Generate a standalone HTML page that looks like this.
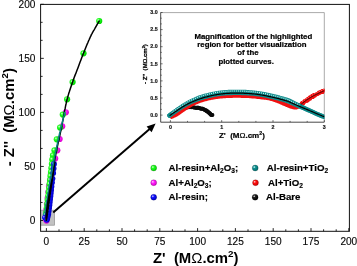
<!DOCTYPE html>
<html><head><meta charset="utf-8"><title>Nyquist plot</title>
<style>html,body{margin:0;padding:0;background:#fff}svg{display:block}</style></head>
<body>
<svg width="357" height="266" viewBox="0 0 357 266" font-family="Liberation Sans, sans-serif">
<defs>
<radialGradient id="gG" cx="35%" cy="35%" r="65%"><stop offset="0" stop-color="#d8ffd8"/><stop offset="0.35" stop-color="#22ff22"/><stop offset="1" stop-color="#00d800"/></radialGradient>
<radialGradient id="gM" cx="35%" cy="35%" r="65%"><stop offset="0" stop-color="#ffe0ff"/><stop offset="0.35" stop-color="#ff22ff"/><stop offset="1" stop-color="#e000d0"/></radialGradient>
<radialGradient id="gB" cx="35%" cy="35%" r="65%"><stop offset="0" stop-color="#d0d0ff"/><stop offset="0.35" stop-color="#1010ff"/><stop offset="1" stop-color="#0000c8"/></radialGradient>
<radialGradient id="gT" cx="35%" cy="35%" r="65%"><stop offset="0" stop-color="#d8ffff"/><stop offset="0.35" stop-color="#109090"/><stop offset="1" stop-color="#007070"/></radialGradient>
<radialGradient id="gR" cx="35%" cy="35%" r="65%"><stop offset="0" stop-color="#ffe0e0"/><stop offset="0.35" stop-color="#ff1010"/><stop offset="1" stop-color="#d80000"/></radialGradient>
<radialGradient id="gK" cx="35%" cy="35%" r="65%"><stop offset="0" stop-color="#ffffff"/><stop offset="0.3" stop-color="#202020"/><stop offset="1" stop-color="#000000"/></radialGradient>
</defs>
<rect width="357" height="266" fill="#fff"/>
<rect x="40.6" y="210.2" width="14.0" height="15" fill="#c2c2c2" stroke="#909090" stroke-width="0.7"/>
<rect x="40.6" y="4.4" width="308.79999999999995" height="226.9" fill="none" stroke="#111" stroke-width="1"/>
<path d="M46.40 231.3v-3.2M59.00 231.3v-2M71.60 231.3v-2M84.20 231.3v-3.2M96.80 231.3v-2M109.40 231.3v-2M122.00 231.3v-3.2M134.60 231.3v-2M147.20 231.3v-2M159.80 231.3v-3.2M172.40 231.3v-2M185.00 231.3v-2M197.60 231.3v-3.2M210.20 231.3v-2M222.80 231.3v-2M235.40 231.3v-3.2M248.00 231.3v-2M260.60 231.3v-2M273.20 231.3v-3.2M285.80 231.3v-2M298.40 231.3v-2M311.00 231.3v-3.2M323.60 231.3v-2M336.20 231.3v-2M348.80 231.3v-3.2M40.6 220.50h3.2M40.6 202.48h2M40.6 184.47h2M40.6 166.45h3.2M40.6 148.43h2M40.6 130.42h2M40.6 112.40h3.2M40.6 94.38h2M40.6 76.37h2M40.6 58.35h3.2M40.6 40.33h2M40.6 22.32h2M40.6 4.30h3.2" stroke="#111" stroke-width="0.9" fill="none"/>
<g font-size="10.1" fill="#0a0a0a" stroke="#0a0a0a" stroke-width="0.15">
<text x="46.4" y="244.8" text-anchor="middle">0</text>
<text x="84.2" y="244.8" text-anchor="middle">25</text>
<text x="122.0" y="244.8" text-anchor="middle">50</text>
<text x="159.8" y="244.8" text-anchor="middle">75</text>
<text x="197.6" y="244.8" text-anchor="middle">100</text>
<text x="235.4" y="244.8" text-anchor="middle">125</text>
<text x="273.2" y="244.8" text-anchor="middle">150</text>
<text x="311.0" y="244.8" text-anchor="middle">175</text>
<text x="348.8" y="244.8" text-anchor="middle">200</text>
<text x="35.4" y="224.1" text-anchor="end">0</text>
<text x="35.4" y="170.0" text-anchor="end">50</text>
<text x="35.4" y="116.0" text-anchor="end">100</text>
<text x="35.4" y="61.9" text-anchor="end">150</text>
<text x="35.4" y="7.9" text-anchor="end">200</text>
</g>
<text x="153" y="262.8" font-size="14.9" font-weight="bold" fill="#000" xml:space="preserve">Z'  (M<tspan font-weight="normal">Ω</tspan>.cm<tspan font-size="9.8" dy="-5.4">2</tspan><tspan dy="5.4">)</tspan></text>
<text transform="translate(13.7,166.3) rotate(-90)" font-size="14.9" font-weight="bold" fill="#000" xml:space="preserve">- Z''  (M<tspan font-weight="normal">Ω</tspan>.cm<tspan font-size="9.8" dy="-5.4">2</tspan><tspan dy="5.4">)</tspan></text>
<circle cx="65.8" cy="112.3" r="3.1" fill="url(#gM)"/>
<circle cx="62.2" cy="126.3" r="3.1" fill="url(#gM)"/>
<circle cx="59.6" cy="139" r="3.1" fill="url(#gM)"/>
<circle cx="57.3" cy="150.3" r="3.1" fill="url(#gM)"/>
<circle cx="55.2" cy="158.5" r="3.1" fill="url(#gM)"/>
<circle cx="51.9" cy="168" r="3.1" fill="url(#gM)"/>
<circle cx="50.9" cy="174" r="3.1" fill="url(#gM)"/>
<circle cx="50.0" cy="180" r="3.1" fill="url(#gM)"/>
<circle cx="49.0" cy="186" r="3.1" fill="url(#gM)"/>
<circle cx="48.3" cy="192" r="3.1" fill="url(#gM)"/>
<circle cx="47.6" cy="198" r="3.1" fill="url(#gM)"/>
<circle cx="46.9" cy="204" r="3.1" fill="url(#gM)"/>
<circle cx="46.3" cy="210" r="3.1" fill="url(#gM)"/>
<circle cx="45.7" cy="216" r="3.1" fill="url(#gM)"/>
<circle cx="46.2" cy="219.2" r="3.1" fill="url(#gM)"/>
<circle cx="46.5" cy="220.6" r="3.1" fill="url(#gM)"/>
<circle cx="99.2" cy="21" r="3.1" fill="url(#gG)"/>
<circle cx="83.5" cy="53.3" r="3.1" fill="url(#gG)"/>
<circle cx="72.6" cy="82.1" r="3.1" fill="url(#gG)"/>
<circle cx="67.1" cy="99.3" r="3.1" fill="url(#gG)"/>
<circle cx="62.8" cy="114.5" r="3.1" fill="url(#gG)"/>
<circle cx="60.1" cy="127.5" r="3.1" fill="url(#gG)"/>
<circle cx="56.8" cy="139.3" r="3.1" fill="url(#gG)"/>
<circle cx="54.5" cy="150.3" r="3.1" fill="url(#gG)"/>
<circle cx="53.0" cy="155.4" r="3.1" fill="url(#gG)"/>
<circle cx="52.3" cy="159.6" r="3.1" fill="url(#gG)"/>
<circle cx="51.9" cy="163.8" r="3.1" fill="url(#gG)"/>
<circle cx="51.4" cy="168" r="3.1" fill="url(#gG)"/>
<circle cx="51.0" cy="172" r="3.1" fill="url(#gG)"/>
<circle cx="50.5" cy="176" r="3.1" fill="url(#gG)"/>
<circle cx="50.1" cy="180" r="3.1" fill="url(#gG)"/>
<circle cx="49.6" cy="184" r="3.1" fill="url(#gG)"/>
<circle cx="49.2" cy="188" r="3.1" fill="url(#gG)"/>
<circle cx="48.7" cy="192" r="3.1" fill="url(#gG)"/>
<circle cx="48.2" cy="196" r="3.1" fill="url(#gG)"/>
<circle cx="47.7" cy="200" r="3.1" fill="url(#gG)"/>
<circle cx="47.2" cy="204" r="3.1" fill="url(#gG)"/>
<circle cx="46.8" cy="208" r="3.1" fill="url(#gG)"/>
<circle cx="46.3" cy="212" r="3.1" fill="url(#gG)"/>
<circle cx="45.9" cy="215" r="3.1" fill="url(#gG)"/>
<circle cx="45.2" cy="214.5" r="2.3" fill="url(#gT)"/>
<circle cx="44.7" cy="217.6" r="2.6" fill="url(#gB)"/>
<circle cx="54.0" cy="164" r="2.9" fill="url(#gB)"/>
<circle cx="53.6" cy="168.5" r="2.9" fill="url(#gB)"/>
<circle cx="53.2" cy="173" r="2.9" fill="url(#gB)"/>
<circle cx="52.5" cy="178.6" r="2.9" fill="url(#gB)"/>
<circle cx="52.0" cy="182.5" r="2.9" fill="url(#gB)"/>
<circle cx="51.5" cy="186.5" r="2.9" fill="url(#gB)"/>
<circle cx="51.1" cy="190" r="2.9" fill="url(#gB)"/>
<circle cx="50.8" cy="193" r="2.9" fill="url(#gB)"/>
<circle cx="50.5" cy="196" r="2.9" fill="url(#gB)"/>
<circle cx="50.1" cy="199" r="2.9" fill="url(#gB)"/>
<circle cx="49.8" cy="202" r="2.9" fill="url(#gB)"/>
<circle cx="49.5" cy="205" r="2.9" fill="url(#gB)"/>
<circle cx="49.1" cy="208" r="2.9" fill="url(#gB)"/>
<circle cx="48.7" cy="211" r="2.9" fill="url(#gB)"/>
<circle cx="48.3" cy="214" r="2.9" fill="url(#gB)"/>
<circle cx="47.7" cy="216.5" r="2.9" fill="url(#gB)"/>
<circle cx="47.2" cy="218.5" r="2.9" fill="url(#gB)"/>
<circle cx="46.7" cy="219.8" r="2.9" fill="url(#gB)"/>
<path d="M99.2 21.0 L99.0 21.3 L98.8 21.7 L98.5 22.1 L98.3 22.6 L97.9 23.2 L97.6 23.7 L97.2 24.4 L96.9 25.0 L96.5 25.6 L96.1 26.3 L95.8 27.0 L95.4 27.6 L95.0 28.2 L94.7 28.8 L94.3 29.5 L94.0 30.1 L93.6 30.7 L93.2 31.4 L92.8 32.0 L92.4 32.8 L92.0 33.6 L91.5 34.4 L91.1 35.4 L90.6 36.4 L90.1 37.5 L89.6 38.6 L89.1 39.8 L88.5 41.0 L88.0 42.3 L87.4 43.6 L86.8 45.0 L86.2 46.5 L85.6 48.0 L84.9 49.7 L84.2 51.4 L83.5 53.3 L82.7 55.3 L81.8 57.5 L80.9 59.9 L79.9 62.4 L79.0 65.0 L78.0 67.7 L77.0 70.3 L76.0 72.9 L75.0 75.4 L74.1 77.8 L73.3 80.1 L72.6 82.1 L71.9 83.9 L71.3 85.7 L70.8 87.3 L70.3 88.8 L69.8 90.2 L69.4 91.5 L68.9 92.9 L68.6 94.1 L68.2 95.4 L67.8 96.7 L67.5 98.0 L67.1 99.3 L66.8 100.6 L66.4 101.9 L66.2 103.2 L65.9 104.5 L65.6 105.8 L65.4 107.0 L65.2 108.2 L64.9 109.5 L64.7 110.7 L64.5 112.0 L64.2 113.2 L64.0 114.5 L63.7 115.8 L63.5 117.0 L63.3 118.3 L63.0 119.6 L62.8 120.9 L62.5 122.1 L62.3 123.4 L62.0 124.7 L61.8 126.0 L61.5 127.3 L61.3 128.7 L61.0 130.0 L60.7 131.4 L60.4 132.7 L60.1 134.1 L59.8 135.5 L59.5 136.9 L59.2 138.4 L58.9 139.8 L58.5 141.2 L58.2 142.6 L57.9 144.1 L57.6 145.5 L57.3 146.9 L57.0 148.3 L56.7 149.8 L56.4 151.3 L56.1 152.8 L55.8 154.3 L55.5 155.8 L55.2 157.2 L54.9 158.7 L54.6 160.1 L54.4 161.4 L54.1 162.7 L53.9 163.9 L53.7 165.1 L53.5 166.2 L53.3 167.3 L53.1 168.4 L52.9 169.5 L52.8 170.5 L52.6 171.5 L52.5 172.3 L52.4 173.1 L52.3 173.9 L52.2 174.5 L52.1 175.0" stroke="#000" stroke-width="1.5" fill="none" stroke-linecap="round"/>
<path d="M64.8 112.5 L64.6 113.3 L64.3 114.4 L64.0 115.7 L63.6 117.1 L63.2 118.6 L62.8 120.2 L62.4 121.9 L62.0 123.6 L61.6 125.3 L61.1 126.9 L60.8 128.5 L60.4 130.0 L60.1 131.4 L59.7 132.9 L59.4 134.3 L59.1 135.7 L58.8 137.1 L58.5 138.5 L58.2 139.9 L57.9 141.3 L57.6 142.7 L57.3 144.1 L57.0 145.5 L56.7 146.9 L56.4 148.3 L56.1 149.8 L55.8 151.3 L55.5 152.8 L55.2 154.3 L54.9 155.8 L54.6 157.2 L54.3 158.7 L54.0 160.1 L53.8 161.4 L53.5 162.7 L53.3 163.9 L53.1 165.0 L52.9 166.1 L52.8 167.0 L52.6 168.0 L52.5 168.8 L52.3 169.7 L52.2 170.5 L52.1 171.4 L52.0 172.2 L51.8 173.1 L51.7 174.0 L51.5 175.0 L51.3 176.0 L51.1 177.0 L50.9 178.0 L50.7 179.0 L50.5 180.1 L50.3 181.1 L50.1 182.2 L49.9 183.3 L49.7 184.4 L49.4 185.6 L49.2 186.8 L49.0 188.0 L48.8 189.3 L48.5 190.7 L48.3 192.2 L48.0 193.7 L47.7 195.3 L47.5 196.8 L47.2 198.4 L47.0 199.9 L46.7 201.3 L46.5 202.6 L46.3 203.9 L46.1 205.0 L45.9 206.0 L45.8 206.9 L45.7 207.8 L45.5 208.6 L45.4 209.4 L45.3 210.1 L45.2 210.7 L45.1 211.3 L45.1 211.8 L45.0 212.2 L45.0 212.6 L44.9 213.0" stroke="#0a8080" stroke-width="1.5" fill="none" stroke-linecap="round"/>
<path d="M54.8 162.0 L54.1 165.0 L52.2 175.0 L49.5 188.0 L46.6 205.0 L45.5 214.0 L45.2 219.0 L45.7 221.0 L46.9 221.0 L47.4 219.0 L48.2 214.0 L49.4 205.0 L51.8 188.0 L53.8 175.0 L55.1 165.0 L55.7 162.0Z" fill="#000"/>
<path d="M53.2 212.6 L150.5 128.2" stroke="#000" stroke-width="2" fill="none"/>
<path d="M155.6 123.6 L146.6 126.6 L151.6 132.2 Z" fill="#000"/>
<rect x="160.6" y="12.6" width="163.70000000000002" height="109.5" fill="#fff"/>
<path d="M160.6 12.6H324.3V122.1" fill="none" stroke="#707070" stroke-width="0.6"/>
<path d="M160.7 12.6V122.19999999999999H324.3" fill="none" stroke="#1a1a1a" stroke-width="0.8"/>
<path d="M170.40 122.1v-2.0M187.50 122.1v-1.2M204.60 122.1v-1.2M221.70 122.1v-2.0M238.80 122.1v-1.2M255.90 122.1v-1.2M273.00 122.1v-2.0M290.10 122.1v-1.2M307.20 122.1v-1.2M324.30 122.1v-2.0M160.6 115.10h2.0M160.6 109.40h1.2M160.6 103.70h1.2M160.6 98.00h2.0M160.6 92.30h1.2M160.6 86.60h1.2M160.6 80.90h2.0M160.6 75.20h1.2M160.6 69.50h1.2M160.6 63.80h2.0M160.6 58.10h1.2M160.6 52.40h1.2M160.6 46.70h2.0M160.6 41.00h1.2M160.6 35.30h1.2M160.6 29.60h2.0M160.6 23.90h1.2M160.6 18.20h1.2M160.6 12.50h2.0" stroke="#1a1a1a" stroke-width="0.6" fill="none"/>
<g font-size="5.3" font-weight="bold" fill="#111" stroke="#111" stroke-width="0.15">
<text x="157.6" y="116.8" text-anchor="end">0.0</text>
<text x="157.6" y="99.7" text-anchor="end">0.5</text>
<text x="157.6" y="82.6" text-anchor="end">1.0</text>
<text x="157.6" y="65.5" text-anchor="end">1.5</text>
<text x="157.6" y="48.4" text-anchor="end">2.0</text>
<text x="157.6" y="31.3" text-anchor="end">2.5</text>
<text x="157.6" y="14.2" text-anchor="end">3.0</text>
<text x="170.4" y="129.0" text-anchor="middle">0</text>
<text x="221.7" y="129.0" text-anchor="middle">1</text>
<text x="273.0" y="129.0" text-anchor="middle">2</text>
<text x="324.3" y="129.0" text-anchor="middle">3</text>
</g>
<text x="218.9" y="137.8" font-size="8.0" font-weight="bold" fill="#000" stroke="#000" stroke-width="0.2" xml:space="preserve">Z'  (M<tspan font-weight="normal">Ω</tspan>.cm<tspan font-size="5.2" dy="-2.9">2</tspan><tspan dy="2.9">)</tspan></text>
<text transform="translate(146.7,84) rotate(-90)" font-size="6.05" font-weight="bold" fill="#000" stroke="#000" stroke-width="0.25" xml:space="preserve">- Z''  (M<tspan font-weight="normal">Ω</tspan>.cm<tspan font-size="4" dy="-2.2">2</tspan><tspan dy="2.2">)</tspan></text>
<g font-size="7.8" font-weight="bold" fill="#000" stroke="#000" stroke-width="0.22">
<text x="194.4" y="38.5">Magnification of the highlighted</text>
<text x="197.3" y="47.2">region for better visualization</text>
<text x="237.3" y="55.4">of the</text>
<text x="218.4" y="64.0">plotted curves.</text>
</g>
<clipPath id="ic"><rect x="160.6" y="12.6" width="163.70000000000002" height="115.5"/></clipPath>
<g clip-path="url(#ic)">
<path d="M170.6 115.2 L170.9 115.1 L171.2 114.9 L171.6 114.7 L172.0 114.5 L172.4 114.3 L172.9 114.1 L173.4 113.8 L174.0 113.6 L174.5 113.3 L175.0 113.1 L175.5 112.8 L176.0 112.6 L176.5 112.4 L177.0 112.1 L177.5 111.8 L178.0 111.6 L178.5 111.3 L179.0 111.0 L179.5 110.8 L180.1 110.5 L180.6 110.3 L181.1 110.0 L181.5 109.8 L182.0 109.6 L182.5 109.4 L182.9 109.2 L183.3 109.0 L183.8 108.9 L184.2 108.7 L184.6 108.5 L185.0 108.4 L185.4 108.3 L185.8 108.1 L186.2 108.0 L186.6 107.9 L187.0 107.8 L187.4 107.7 L187.7 107.6 L188.1 107.5 L188.4 107.5 L188.7 107.4 L189.1 107.4 L189.4 107.3 L189.7 107.3 L190.0 107.3 L190.3 107.2 L190.7 107.2 L191.0 107.2 L191.3 107.2 L191.7 107.2 L192.0 107.2 L192.4 107.3 L192.7 107.3 L193.0 107.3 L193.4 107.4 L193.7 107.4 L194.0 107.5 L194.4 107.5 L194.7 107.6 L195.0 107.6 L195.3 107.6 L195.6 107.7 L195.9 107.7 L196.2 107.8 L196.5 107.8 L196.8 107.8 L197.1 107.9 L197.4 107.9 L197.7 108.0 L197.9 108.0 L198.2 108.1 L198.5 108.1 L198.8 108.2 L199.1 108.2 L199.3 108.3 L199.6 108.3 L199.9 108.4 L200.2 108.4 L200.4 108.5 L200.7 108.5 L201.0 108.6 L201.3 108.7 L201.5 108.7 L201.8 108.8 L202.1 108.9 L202.3 109.0 L202.6 109.0 L202.9 109.1 L203.2 109.2 L203.5 109.3 L203.7 109.4 L204.0 109.5 L204.3 109.6 L204.5 109.7 L204.8 109.8 L205.0 109.9 L205.2 110.0 L205.4 110.1 L205.7 110.2 L205.9 110.4 L206.1 110.5 L206.3 110.6 L206.5 110.7 L206.7 110.9 L206.8 111.0 L207.0 111.1 L207.2 111.3 L207.4 111.4 L207.6 111.5 L207.8 111.7 L208.0 111.9 L208.1 112.0 L208.3 112.2 L208.5 112.4 L208.7 112.5 L208.8 112.7 L209.0 112.9 L209.2 113.0 L209.3 113.2 L209.5 113.3 L209.7 113.4 L209.8 113.6 L210.0 113.7 L210.1 113.8 L210.3 113.9 L210.4 114.0 L210.5 114.2 L210.7 114.3 L210.8 114.4 L210.9 114.4 L211.1 114.5 L211.2 114.6 L211.3 114.7 L211.5 114.7 L211.6 114.8 L211.7 114.8 L211.9 114.8 L212.0 114.8 L212.1 114.8 L212.2 114.9 L212.4 114.9 L212.5 114.9 L212.5 114.9 L212.6 114.9" stroke="#0a0a0a" stroke-width="3.4" fill="none" stroke-linecap="round" stroke-linejoin="round"/>
<circle cx="190.0" cy="107.1" r="2.1" fill="#0a0a0a"/>
<circle cx="191.7" cy="107.2" r="2.1" fill="#0a0a0a"/>
<circle cx="193.4" cy="107.3" r="2.1" fill="#0a0a0a"/>
<circle cx="195.0" cy="107.7" r="2.1" fill="#0a0a0a"/>
<circle cx="196.5" cy="107.9" r="2.1" fill="#0a0a0a"/>
<circle cx="197.9" cy="107.7" r="2.1" fill="#0a0a0a"/>
<circle cx="199.3" cy="108.0" r="2.1" fill="#0a0a0a"/>
<circle cx="200.7" cy="108.7" r="2.1" fill="#0a0a0a"/>
<circle cx="202.1" cy="108.7" r="2.1" fill="#0a0a0a"/>
<circle cx="203.5" cy="109.1" r="2.1" fill="#0a0a0a"/>
<circle cx="204.8" cy="110.1" r="2.1" fill="#0a0a0a"/>
<circle cx="205.9" cy="110.3" r="2.1" fill="#0a0a0a"/>
<circle cx="206.8" cy="111.2" r="2.1" fill="#0a0a0a"/>
<circle cx="207.8" cy="111.7" r="2.1" fill="#0a0a0a"/>
<circle cx="208.7" cy="112.6" r="2.1" fill="#0a0a0a"/>
<circle cx="209.5" cy="113.1" r="2.1" fill="#0a0a0a"/>
<circle cx="210.3" cy="114.0" r="2.1" fill="#0a0a0a"/>
<circle cx="210.9" cy="114.7" r="2.1" fill="#0a0a0a"/>
<circle cx="211.6" cy="114.8" r="2.1" fill="#0a0a0a"/>
<circle cx="212.2" cy="115.0" r="2.1" fill="#0a0a0a"/>
<path d="M171.8 116.8 L172.0 116.7 L172.4 116.5 L172.7 116.4 L173.1 116.2 L173.6 116.0 L174.0 115.8 L174.5 115.5 L175.0 115.3 L175.5 115.0 L176.0 114.8 L176.5 114.5 L177.0 114.2 L177.5 113.9 L178.0 113.6 L178.4 113.3 L178.9 112.9 L179.4 112.6 L179.9 112.2 L180.5 111.8 L181.0 111.4 L181.5 111.1 L182.0 110.7 L182.5 110.3 L183.0 110.0 L183.5 109.7 L184.0 109.3 L184.5 109.0 L185.0 108.6 L185.5 108.3 L186.1 107.9 L186.6 107.6 L187.1 107.3 L187.6 106.9 L188.1 106.6 L188.6 106.3 L189.1 106.0 L189.6 105.7 L190.1 105.4 L190.6 105.1 L191.1 104.9 L191.6 104.6 L192.1 104.3 L192.5 104.1 L193.0 103.8 L193.5 103.6 L194.0 103.4 L194.5 103.1 L195.0 102.9 L195.5 102.7 L196.0 102.5 L196.4 102.3 L196.9 102.1 L197.4 101.9 L197.8 101.7 L198.3 101.5 L198.8 101.3 L199.3 101.1 L199.9 100.9 L200.5 100.7 L201.1 100.5 L201.8 100.3 L202.5 100.1 L203.2 99.9 L203.9 99.6 L204.7 99.4 L205.5 99.2 L206.3 99.0 L207.1 98.8 L207.9 98.6 L208.8 98.4 L209.6 98.2 L210.5 98.0 L211.4 97.8 L212.3 97.7 L213.2 97.5 L214.1 97.4 L215.0 97.2 L216.0 97.1 L217.0 97.0 L217.9 96.8 L218.9 96.7 L219.9 96.6 L221.0 96.5 L222.0 96.4 L223.0 96.3 L224.1 96.2 L225.2 96.2 L226.3 96.1 L227.4 96.0 L228.5 96.0 L229.6 95.9 L230.8 95.9 L231.9 95.9 L233.1 95.8 L234.2 95.8 L235.4 95.8 L236.6 95.8 L237.8 95.8 L239.0 95.8 L240.3 95.8 L241.5 95.9 L242.8 95.9 L244.0 95.9 L245.3 96.0 L246.5 96.0 L247.7 96.1 L248.9 96.1 L250.0 96.2 L251.1 96.3 L252.2 96.4 L253.3 96.4 L254.3 96.5 L255.4 96.6 L256.4 96.8 L257.4 96.9 L258.4 97.0 L259.3 97.1 L260.3 97.2 L261.1 97.3 L262.0 97.4 L262.8 97.5 L263.6 97.6 L264.3 97.7 L264.9 97.7 L265.6 97.8 L266.2 97.9 L266.8 98.0 L267.4 98.1 L268.1 98.2 L268.7 98.3 L269.3 98.4 L270.0 98.6 L270.7 98.8 L271.4 99.0 L272.1 99.2 L272.8 99.4 L273.5 99.6 L274.2 99.8 L274.9 100.1 L275.7 100.3 L276.4 100.6 L277.1 100.9 L277.8 101.1 L278.5 101.4 L279.2 101.7 L279.9 102.0 L280.7 102.3 L281.4 102.6 L282.2 102.9 L282.9 103.3 L283.6 103.6 L284.3 103.9 L285.0 104.2 L285.7 104.5 L286.3 104.8 L286.9 105.0 L287.4 105.2 L288.0 105.4 L288.4 105.6 L288.9 105.8 L289.3 106.0 L289.8 106.1 L290.1 106.3 L290.5 106.4 L290.9 106.6 L291.3 106.7 L291.6 106.8 L292.0 106.9 L292.4 107.0 L292.7 107.1 L293.0 107.2 L293.3 107.3 L293.6 107.3 L293.9 107.4 L294.2 107.4 L294.5 107.5 L294.8 107.5 L295.1 107.5 L295.3 107.5 L295.6 107.5 L295.9 107.5 L296.1 107.4 L296.4 107.4 L296.6 107.3 L296.9 107.3 L297.1 107.2 L297.3 107.1 L297.5 107.0 L297.8 106.9 L298.0 106.8 L298.2 106.7 L298.4 106.6 L298.6 106.5 L298.8 106.4 L298.9 106.3 L299.1 106.1 L299.2 106.0 L299.4 105.9 L299.6 105.7 L299.7 105.6 L299.9 105.4 L300.1 105.2 L300.3 105.0 L300.6 104.8 L300.9 104.6 L301.2 104.3 L301.5 104.0 L301.9 103.7 L302.3 103.4 L302.7 103.1 L303.0 102.7 L303.4 102.4 L303.8 102.1 L304.2 101.8 L304.6 101.5 L305.0 101.2 L305.4 100.9 L305.7 100.7 L306.1 100.4 L306.5 100.1 L306.9 99.9 L307.2 99.6 L307.6 99.4 L308.0 99.2 L308.4 98.9 L308.7 98.7 L309.1 98.4 L309.5 98.2 L309.9 98.0 L310.3 97.7 L310.6 97.5 L311.0 97.3 L311.4 97.0 L311.8 96.8 L312.2 96.6 L312.6 96.4 L313.0 96.1 L313.3 95.9 L313.7 95.7 L314.1 95.5 L314.5 95.3 L314.8 95.1 L315.2 94.9 L315.6 94.7 L315.9 94.6 L316.3 94.4 L316.6 94.2 L317.0 94.1 L317.4 93.9 L317.8 93.7 L318.2 93.5 L318.6 93.3 L319.1 93.1 L319.5 92.8 L320.1 92.6 L320.6 92.3 L321.2 92.1 L321.7 91.8 L322.3 91.6 L322.8 91.3 L323.2 91.1 L323.7 90.9 L324.0 90.7 L324.3 90.6" stroke="#f01010" stroke-width="4" fill="none" stroke-linecap="round" stroke-linejoin="round"/>
<circle cx="301.3" cy="103.2" r="1.5" fill="#f01010"/>
<circle cx="301.7" cy="104.2" r="1.5" fill="#f01010"/>
<circle cx="301.7" cy="102.5" r="1.5" fill="#f01010"/>
<circle cx="302.6" cy="103.3" r="1.5" fill="#f01010"/>
<circle cx="302.8" cy="104.1" r="1.5" fill="#f01010"/>
<circle cx="303.2" cy="103.8" r="1.5" fill="#f01010"/>
<circle cx="303.4" cy="103.2" r="1.5" fill="#f01010"/>
<circle cx="303.8" cy="103.2" r="1.5" fill="#f01010"/>
<circle cx="304.5" cy="100.7" r="1.5" fill="#f01010"/>
<circle cx="304.3" cy="100.7" r="1.5" fill="#f01010"/>
<circle cx="305.4" cy="101.0" r="1.5" fill="#f01010"/>
<circle cx="305.5" cy="100.4" r="1.5" fill="#f01010"/>
<circle cx="305.7" cy="100.4" r="1.5" fill="#f01010"/>
<circle cx="306.0" cy="100.6" r="1.5" fill="#f01010"/>
<circle cx="306.6" cy="101.2" r="1.5" fill="#f01010"/>
<circle cx="307.0" cy="101.0" r="1.5" fill="#f01010"/>
<circle cx="307.5" cy="100.9" r="1.5" fill="#f01010"/>
<circle cx="307.7" cy="98.5" r="1.5" fill="#f01010"/>
<circle cx="308.3" cy="100.4" r="1.5" fill="#f01010"/>
<circle cx="308.7" cy="99.1" r="1.5" fill="#f01010"/>
<circle cx="308.9" cy="97.9" r="1.5" fill="#f01010"/>
<circle cx="309.4" cy="98.6" r="1.5" fill="#f01010"/>
<circle cx="309.3" cy="97.1" r="1.5" fill="#f01010"/>
<circle cx="310.2" cy="99.2" r="1.5" fill="#f01010"/>
<circle cx="309.9" cy="98.5" r="1.5" fill="#f01010"/>
<circle cx="310.6" cy="96.6" r="1.5" fill="#f01010"/>
<circle cx="310.9" cy="98.0" r="1.5" fill="#f01010"/>
<circle cx="311.7" cy="95.8" r="1.5" fill="#f01010"/>
<circle cx="311.9" cy="95.6" r="1.5" fill="#f01010"/>
<circle cx="312.4" cy="96.1" r="1.5" fill="#f01010"/>
<circle cx="312.9" cy="97.6" r="1.5" fill="#f01010"/>
<circle cx="313.0" cy="97.4" r="1.5" fill="#f01010"/>
<circle cx="313.2" cy="94.8" r="1.5" fill="#f01010"/>
<circle cx="313.8" cy="94.5" r="1.5" fill="#f01010"/>
<circle cx="313.9" cy="95.3" r="1.5" fill="#f01010"/>
<circle cx="314.6" cy="94.4" r="1.5" fill="#f01010"/>
<circle cx="314.5" cy="96.1" r="1.5" fill="#f01010"/>
<circle cx="315.1" cy="96.1" r="1.5" fill="#f01010"/>
<circle cx="315.9" cy="94.4" r="1.5" fill="#f01010"/>
<circle cx="315.9" cy="94.6" r="1.5" fill="#f01010"/>
<circle cx="316.4" cy="94.6" r="1.5" fill="#f01010"/>
<circle cx="316.7" cy="94.5" r="1.5" fill="#f01010"/>
<circle cx="317.4" cy="94.1" r="1.5" fill="#f01010"/>
<circle cx="317.3" cy="94.4" r="1.5" fill="#f01010"/>
<circle cx="317.6" cy="93.2" r="1.5" fill="#f01010"/>
<circle cx="318.6" cy="93.6" r="1.5" fill="#f01010"/>
<circle cx="318.6" cy="92.0" r="1.5" fill="#f01010"/>
<circle cx="319.0" cy="93.3" r="1.5" fill="#f01010"/>
<circle cx="319.2" cy="93.1" r="1.5" fill="#f01010"/>
<circle cx="320.2" cy="91.5" r="1.5" fill="#f01010"/>
<circle cx="320.7" cy="92.2" r="1.5" fill="#f01010"/>
<circle cx="321.3" cy="91.7" r="1.5" fill="#f01010"/>
<circle cx="321.9" cy="92.4" r="1.5" fill="#f01010"/>
<circle cx="321.9" cy="90.4" r="1.5" fill="#f01010"/>
<circle cx="322.9" cy="92.5" r="1.5" fill="#f01010"/>
<circle cx="323.0" cy="91.0" r="1.5" fill="#f01010"/>
<circle cx="323.7" cy="90.4" r="1.5" fill="#f01010"/>
<circle cx="323.9" cy="90.2" r="1.5" fill="#f01010"/>
<circle cx="324.2" cy="90.8" r="1.5" fill="#f01010"/>
<path d="M169.4 115.5 L169.6 115.4 L169.8 115.2 L170.0 115.0 L170.3 114.8 L170.6 114.6 L171.0 114.4 L171.3 114.1 L171.6 113.9 L172.0 113.6 L172.3 113.4 L172.7 113.1 L173.0 112.9 L173.3 112.7 L173.6 112.5 L173.9 112.3 L174.2 112.1 L174.5 111.8 L174.8 111.6 L175.2 111.4 L175.5 111.2 L175.8 111.0 L176.2 110.7 L176.6 110.5 L177.0 110.2 L177.4 109.9 L177.9 109.6 L178.4 109.3 L178.8 109.0 L179.4 108.6 L179.9 108.3 L180.4 108.0 L180.9 107.6 L181.4 107.3 L182.0 106.9 L182.5 106.6 L183.0 106.3 L183.5 106.0 L184.0 105.7 L184.5 105.4 L185.0 105.1 L185.5 104.8 L186.1 104.5 L186.6 104.2 L187.1 103.9 L187.6 103.7 L188.1 103.4 L188.6 103.2 L189.1 102.9 L189.6 102.7 L190.1 102.4 L190.6 102.2 L191.1 102.0 L191.6 101.8 L192.1 101.6 L192.5 101.4 L193.0 101.2 L193.5 101.0 L194.0 100.8 L194.5 100.6 L195.0 100.4 L195.5 100.2 L196.0 100.0 L196.4 99.8 L196.9 99.6 L197.4 99.4 L197.8 99.3 L198.3 99.1 L198.8 98.9 L199.3 98.7 L199.9 98.5 L200.5 98.3 L201.1 98.1 L201.8 97.9 L202.5 97.7 L203.2 97.5 L204.0 97.2 L204.8 97.0 L205.6 96.8 L206.5 96.6 L207.3 96.4 L208.1 96.2 L208.9 96.0 L209.7 95.8 L210.5 95.6 L211.3 95.4 L212.0 95.3 L212.7 95.1 L213.5 95.0 L214.2 94.8 L215.0 94.7 L215.7 94.6 L216.4 94.4 L217.1 94.3 L217.8 94.2 L218.5 94.1 L219.2 94.0 L219.9 93.9 L220.5 93.8 L221.2 93.7 L221.8 93.7 L222.5 93.6 L223.1 93.5 L223.8 93.5 L224.4 93.4 L225.0 93.3 L225.7 93.3 L226.3 93.2 L227.0 93.2 L227.7 93.2 L228.4 93.1 L229.0 93.1 L229.7 93.0 L230.4 93.0 L231.1 93.0 L231.8 93.0 L232.5 92.9 L233.2 92.9 L233.9 92.9 L234.7 92.9 L235.4 92.9 L236.2 92.9 L236.9 92.9 L237.7 92.9 L238.5 92.9 L239.3 92.9 L240.1 92.9 L240.9 92.9 L241.7 93.0 L242.5 93.0 L243.4 93.0 L244.2 93.1 L245.0 93.1 L245.8 93.1 L246.7 93.2 L247.5 93.3 L248.4 93.3 L249.3 93.4 L250.2 93.4 L251.0 93.5 L251.9 93.6 L252.7 93.7 L253.5 93.7 L254.3 93.8 L255.0 93.9 L255.7 94.0 L256.3 94.0 L256.9 94.1 L257.5 94.2 L258.1 94.3 L258.6 94.4 L259.2 94.4 L259.7 94.5 L260.2 94.6 L260.8 94.7 L261.4 94.8 L262.0 94.9 L262.6 95.0 L263.3 95.1 L263.9 95.2 L264.6 95.4 L265.2 95.5 L265.9 95.6 L266.6 95.8 L267.3 95.9 L267.9 96.1 L268.6 96.2 L269.3 96.4 L270.0 96.5 L270.7 96.7 L271.4 96.8 L272.1 97.0 L272.8 97.1 L273.5 97.3 L274.2 97.5 L274.9 97.6 L275.7 97.8 L276.4 98.0 L277.1 98.1 L277.8 98.3 L278.5 98.5 L279.2 98.7 L279.9 98.9 L280.7 99.1 L281.4 99.3 L282.1 99.5 L282.9 99.7 L283.6 99.9 L284.3 100.1 L285.0 100.3 L285.6 100.5 L286.3 100.7 L286.9 100.9 L287.5 101.1 L288.0 101.3 L288.6 101.5 L289.1 101.7 L289.5 101.9 L290.0 102.1 L290.5 102.4 L291.0 102.6 L291.4 102.8 L291.9 103.0 L292.5 103.3 L293.0 103.5 L293.6 103.8 L294.2 104.0 L294.8 104.3 L295.4 104.6 L296.1 104.9 L296.7 105.2 L297.4 105.5 L298.0 105.7 L298.6 106.0 L299.3 106.3 L299.8 106.6 L300.4 106.8 L300.9 107.0 L301.4 107.2 L301.9 107.5 L302.4 107.7 L302.8 107.8 L303.3 108.0 L303.7 108.2 L304.1 108.4 L304.6 108.6 L305.0 108.8 L305.5 109.0 L306.0 109.2 L306.5 109.4 L307.0 109.6 L307.5 109.9 L308.1 110.1 L308.6 110.3 L309.1 110.5 L309.7 110.8 L310.2 111.0 L310.8 111.2 L311.3 111.5 L311.8 111.7 L312.3 111.9 L312.8 112.1 L313.3 112.3 L313.8 112.5 L314.2 112.7 L314.7 113.0 L315.1 113.2 L315.6 113.4 L316.1 113.6 L316.5 113.8 L317.0 114.0 L317.5 114.2 L318.0 114.4 L318.5 114.6 L319.1 114.9 L319.7 115.1 L320.3 115.4 L320.9 115.6 L321.5 115.9 L322.1 116.1 L322.6 116.3 L323.2 116.5 L323.6 116.7 L324.0 116.9 L324.3 117.0" stroke="#0d8a8a" stroke-width="4.3" fill="none" stroke-linecap="round" stroke-linejoin="round"/>
<path d="M169.4 115.5 L169.6 115.4 L169.8 115.2 L170.0 115.0 L170.3 114.8 L170.6 114.6 L171.0 114.4 L171.3 114.1 L171.6 113.9 L172.0 113.6 L172.3 113.4 L172.7 113.1 L173.0 112.9 L173.3 112.6 L173.6 112.4 L173.9 112.2 L174.2 112.0 L174.5 111.7 L174.8 111.5 L175.2 111.3 L175.5 111.1 L175.8 110.8 L176.2 110.6 L176.6 110.3 L177.0 110.0 L177.4 109.7 L177.9 109.4 L178.4 109.0 L178.8 108.7 L179.4 108.3 L179.9 108.0 L180.4 107.6 L180.9 107.3 L181.4 106.9 L182.0 106.5 L182.5 106.2 L183.0 105.9 L183.5 105.5 L184.0 105.2 L184.5 104.9 L185.0 104.6 L185.5 104.3 L186.1 104.0 L186.6 103.7 L187.1 103.4 L187.6 103.1 L188.1 102.8 L188.6 102.5 L189.1 102.2 L189.6 102.0 L190.1 101.7 L190.6 101.5 L191.1 101.2 L191.6 101.0 L192.1 100.8 L192.5 100.6 L193.0 100.4 L193.5 100.1 L194.0 99.9 L194.5 99.7 L195.0 99.5 L195.5 99.3 L196.0 99.1 L196.4 98.9 L196.9 98.6 L197.4 98.4 L197.8 98.2 L198.3 98.0 L198.8 97.8 L199.3 97.6 L199.9 97.4 L200.5 97.2 L201.1 97.0 L201.8 96.8 L202.5 96.6 L203.2 96.4 L204.0 96.1 L204.8 95.9 L205.6 95.7 L206.5 95.5 L207.3 95.3 L208.1 95.1 L208.9 94.9 L209.7 94.7 L210.5 94.5 L211.3 94.3 L212.0 94.2 L212.7 94.0 L213.5 93.9 L214.2 93.7 L215.0 93.6 L215.7 93.5 L216.4 93.3 L217.1 93.2 L217.8 93.1 L218.5 93.0 L219.2 92.9 L219.9 92.8 L220.5 92.7 L221.2 92.6 L221.8 92.6 L222.5 92.5 L223.1 92.4 L223.8 92.4 L224.4 92.3 L225.0 92.2 L225.7 92.2 L226.3 92.1 L227.0 92.1 L227.7 92.1 L228.4 92.0 L229.0 92.0 L229.7 91.9 L230.4 91.9 L231.1 91.9 L231.8 91.9 L232.5 91.8 L233.2 91.8 L233.9 91.8 L234.7 91.8 L235.4 91.8 L236.2 91.8 L236.9 91.8 L237.7 91.8 L238.5 91.8 L239.3 91.8 L240.1 91.8 L240.9 91.8 L241.7 91.9 L242.5 91.9 L243.4 91.9 L244.2 92.0 L245.0 92.0 L245.8 92.0 L246.7 92.1 L247.5 92.2 L248.4 92.2 L249.3 92.3 L250.2 92.3 L251.0 92.4 L251.9 92.5 L252.7 92.6 L253.5 92.6 L254.3 92.7 L255.0 92.8 L255.7 92.9 L256.3 92.9 L256.9 93.0 L257.5 93.1 L258.1 93.2 L258.6 93.3 L259.2 93.3 L259.7 93.4 L260.2 93.5 L260.8 93.6 L261.4 93.7 L262.0 93.8 L262.6 93.9 L263.3 94.0 L263.9 94.1 L264.6 94.3 L265.2 94.4 L265.9 94.5 L266.6 94.7 L267.3 94.8 L267.9 95.0 L268.6 95.1 L269.3 95.3 L270.0 95.4 L270.7 95.6 L271.4 95.7 L272.1 95.9 L272.8 96.0 L273.5 96.2 L274.2 96.4 L274.9 96.5 L275.7 96.7 L276.4 96.9 L277.1 97.0 L277.8 97.2 L278.5 97.4 L279.2 97.6 L279.9 97.8 L280.7 98.0 L281.4 98.2 L282.1 98.4 L282.9 98.6 L283.6 98.8 L284.3 99.0 L285.0 99.2 L285.6 99.4 L286.3 99.6 L286.9 99.8 L287.5 100.0 L288.0 100.2 L288.6 100.4 L289.1 100.6 L289.5 100.8 L290.0 101.0 L290.5 101.3 L291.0 101.5 L291.4 101.8 L291.9 102.0 L292.5 102.3 L293.0 102.5 L293.6 102.8 L294.2 103.1 L294.8 103.4 L295.4 103.7 L296.1 104.0 L296.7 104.3 L297.4 104.7 L298.0 105.0 L298.6 105.3 L299.3 105.6 L299.8 105.9 L300.4 106.1 L300.9 106.4 L301.4 106.6 L301.9 106.9 L302.4 107.1 L302.8 107.3 L303.3 107.5 L303.7 107.7 L304.1 107.9 L304.6 108.1 L305.0 108.3 L305.5 108.5 L306.0 108.8 L306.5 109.0 L307.0 109.3 L307.5 109.5 L308.1 109.7 L308.6 110.0 L309.1 110.3 L309.7 110.5 L310.2 110.8 L310.8 111.0 L311.3 111.3 L311.8 111.5 L312.3 111.7 L312.8 112.0 L313.3 112.2 L313.8 112.4 L314.2 112.7 L314.7 112.9 L315.1 113.1 L315.6 113.3 L316.1 113.6 L316.5 113.8 L317.0 114.0 L317.5 114.2 L318.0 114.4 L318.5 114.6 L319.1 114.9 L319.7 115.1 L320.3 115.4 L320.9 115.6 L321.5 115.9 L322.1 116.1 L322.6 116.3 L323.2 116.5 L323.6 116.7 L324.0 116.9 L324.3 117.0" stroke="#0d8a8a" stroke-width="4.3" fill="none" stroke-linecap="round" stroke-linejoin="round"/>
<path d="M171.8 112.6 L172.2 112.3 L172.5 112.1 L172.8 111.8 L173.1 111.6 L173.4 111.4 L173.7 111.2 L174.0 110.9 L174.3 110.7 L174.7 110.5 L175.0 110.3 L175.3 110.0 L175.7 109.8 L176.1 109.5 L176.5 109.2 L176.9 108.9 L177.4 108.6 L177.9 108.2 L178.3 107.9 L178.9 107.5 L179.4 107.2 L179.9 106.8 L180.4 106.5 L180.9 106.1 L181.5 105.7 L182.0 105.4 L182.5 105.1 L183.0 104.7 L183.5 104.4 L184.0 104.1 L184.5 103.8 L185.0 103.5 L185.6 103.2 L186.1 102.9 L186.6 102.6 L187.1 102.3 L187.6 102.0 L188.1 101.7 L188.6 101.4 L189.1 101.2 L189.6 100.9 L190.1 100.7 L190.6 100.4 L191.1 100.2 L191.6 100.0 L192.0 99.8 L192.5 99.6 L193.0 99.3 L193.5 99.1 L194.0 98.9 L194.5 98.7 L195.0 98.5 L195.5 98.3 L195.9 98.1 L196.4 97.8 L196.9 97.6 L197.3 97.4 L197.8 97.2 L198.3 97.0 L198.8 96.8 L199.4 96.6 L200.0 96.4 L200.6 96.2 L201.3 96.0 L202.0 95.8 L202.7 95.6 L203.5 95.3 L204.3 95.1 L205.1 94.9 L206.0 94.7 L206.8 94.5 L207.6 94.3 L208.4 94.1 L209.2 93.9 L210.0 93.7 L210.8 93.5 L211.5 93.4 L212.2 93.2 L213.0 93.1 L213.7 92.9 L214.5 92.8 L215.2 92.7 L215.9 92.5 L216.6 92.4 L217.3 92.3 L218.0 92.2 L218.7 92.1 L219.4 92.0 L220.0 91.9 L220.7 91.8 L221.3 91.8 L222.0 91.7 L222.6 91.6 L223.3 91.6 L223.9 91.5 L224.5 91.4 L225.2 91.4 L225.8 91.3 L226.5 91.3 L227.2 91.3 L227.9 91.2 L228.5 91.2 L229.2 91.1 L229.9 91.1 L230.6 91.1 L231.3 91.1 L232.0 91.0 L232.7 91.0 L233.4 91.0 L234.2 91.0 L234.9 91.0 L235.7 91.0 L236.4 91.0 L237.2 91.0 L238.0 91.0 L238.8 91.0 L239.6 91.0 L240.4 91.0 L241.2 91.1 L242.0 91.1 L242.9 91.1 L243.7 91.2 L244.5 91.2 L245.3 91.2 L246.2 91.3 L247.0 91.4 L247.9 91.4 L248.8 91.5 L249.7 91.5 L250.5 91.6 L251.4 91.7 L252.2 91.8 L253.0 91.8 L253.8 91.9 L254.5 92.0 L255.2 92.1 L255.8 92.1 L256.4 92.2 L257.0 92.3 L257.6 92.4 L258.1 92.5 L258.7 92.5 L259.2 92.6 L259.8 92.7 L260.3 92.8 L260.9 92.9 L261.5 93.0 L262.1 93.1 L262.8 93.2 L263.4 93.3 L264.1 93.5 L264.7 93.6 L265.4 93.7 L266.1 93.9 L266.8 94.0 L267.4 94.2 L268.1 94.3 L268.8 94.5 L269.5 94.6 L270.2 94.8 L270.9 94.9 L271.6 95.1 L272.3 95.2 L273.0 95.4 L273.7 95.6 L274.4 95.7 L275.2 95.9 L275.9 96.1 L276.6 96.2 L277.3 96.4 L278.0 96.6 L278.7 96.8 L279.4 97.0 L280.2 97.2 L280.9 97.4 L281.6 97.6 L282.4 97.8 L283.1 98.0 L283.8 98.2 L284.5 98.4 L285.1 98.6 L285.8 98.8 L286.4 99.0 L287.0 99.2 L287.5 99.4 L288.1 99.6 L288.6 99.8 L289.0 100.0 L289.5 100.2 L290.0 100.5 L290.5 100.7 L290.9 101.0 L291.4 101.2 L292.0 101.5 L292.5 101.7 L293.1 102.0 L293.7 102.3 L294.3 102.6 L294.9 102.9 L295.6 103.2 L296.2 103.5 L296.9 103.9 L297.5 104.2 L298.1 104.5 L298.8 104.8 L299.3 105.1" stroke="#d4f6f6" stroke-width="1.2" fill="none" stroke-dasharray="0.9 1.2"/>
<path d="M169.7 115.7 L169.9 115.6 L170.1 115.4 L170.3 115.2 L170.6 115.0 L170.9 114.8 L171.3 114.6 L171.6 114.3 L171.9 114.1 L172.3 113.8 L172.6 113.6 L173.0 113.3 L173.3 113.1 L173.6 112.9 L173.9 112.7 L174.2 112.5 L174.5 112.3 L174.8 112.0 L175.2 111.8 L175.5 111.6 L175.8 111.4 L176.2 111.2 L176.5 110.9 L176.9 110.7 L177.3 110.4 L177.7 110.1 L178.2 109.8 L178.7 109.5 L179.1 109.2 L179.7 108.8 L180.2 108.5 L180.7 108.2 L181.2 107.8 L181.7 107.5 L182.3 107.1 L182.8 106.8 L183.3 106.5 L183.8 106.2 L184.3 105.9 L184.8 105.6 L185.3 105.3 L185.8 105.0 L186.4 104.7 L186.9 104.4 L187.4 104.1 L187.9 103.9 L188.4 103.6 L188.9 103.4 L189.4 103.1 L189.9 102.9 L190.4 102.6 L190.9 102.4 L191.4 102.2 L191.9 102.0 L192.4 101.8 L192.8 101.6 L193.3 101.4 L193.8 101.2 L194.3 101.0 L194.8 100.8 L195.3 100.6 L195.8 100.4 L196.3 100.2 L196.7 100.0 L197.2 99.8 L197.7 99.6 L198.1 99.5 L198.6 99.3 L199.1 99.1 L199.6 98.9 L200.2 98.7 L200.8 98.5 L201.4 98.3 L202.1 98.1 L202.8 97.9 L203.5 97.7 L204.3 97.4 L205.1 97.2 L205.9 97.0 L206.8 96.8 L207.6 96.6 L208.4 96.4 L209.2 96.2 L210.0 96.0 L210.8 95.8 L211.6 95.6 L212.3 95.5 L213.0 95.3 L213.8 95.2 L214.5 95.0 L215.3 94.9 L216.0 94.8 L216.7 94.6 L217.4 94.5 L218.1 94.4 L218.8 94.3 L219.5 94.2 L220.2 94.1 L220.8 94.0 L221.5 93.9 L222.1 93.9 L222.8 93.8 L223.4 93.7 L224.1 93.7 L224.7 93.6 L225.3 93.5 L226.0 93.5 L226.6 93.4 L227.3 93.4 L228.0 93.4 L228.7 93.3 L229.3 93.3 L230.0 93.2 L230.7 93.2 L231.4 93.2 L232.1 93.2 L232.8 93.1 L233.5 93.1 L234.2 93.1 L235.0 93.1 L235.7 93.1 L236.5 93.1 L237.2 93.1 L238.0 93.1 L238.8 93.1 L239.6 93.1 L240.4 93.1 L241.2 93.1 L242.0 93.2 L242.8 93.2 L243.7 93.2 L244.5 93.3 L245.3 93.3 L246.1 93.3 L247.0 93.4 L247.8 93.5 L248.7 93.5 L249.6 93.6 L250.5 93.6 L251.3 93.7 L252.2 93.8 L253.0 93.9 L253.8 93.9 L254.6 94.0 L255.3 94.1 L256.0 94.2 L256.6 94.2 L257.2 94.3 L257.8 94.4 L258.4 94.5 L258.9 94.6 L259.5 94.6 L260.0 94.7 L260.6 94.8 L261.1 94.9 L261.7 95.0 L262.3 95.1 L262.9 95.2 L263.6 95.3 L264.2 95.4 L264.9 95.6 L265.5 95.7 L266.2 95.8 L266.9 96.0 L267.6 96.1 L268.2 96.3 L268.9 96.4 L269.6 96.6 L270.3 96.7 L271.0 96.9 L271.7 97.0 L272.4 97.2 L273.1 97.3 L273.8 97.5 L274.5 97.7 L275.2 97.8 L276.0 98.0 L276.7 98.2 L277.4 98.3 L278.1 98.5 L278.8 98.7 L279.5 98.9 L280.2 99.1 L281.0 99.3 L281.7 99.5 L282.4 99.7 L283.2 99.9 L283.9 100.1 L284.6 100.3 L285.3 100.5 L285.9 100.7 L286.6 100.9 L287.2 101.1 L287.8 101.3 L288.3 101.5 L288.9 101.7 L289.4 101.9 L289.8 102.1 L290.3 102.3 L290.8 102.6 L291.3 102.8 L291.7 103.0 L292.2 103.2 L292.8 103.4 L293.3 103.7 L293.9 103.9 L294.5 104.2 L295.1 104.4 L295.7 104.7 L296.4 105.0 L297.0 105.3 L297.7 105.6 L298.3 105.8 L298.9 106.1 L299.6 106.4 L300.1 106.6 L300.7 106.9 L301.2 107.1 L301.7 107.3 L302.2 107.5 L302.7 107.7 L303.1 107.9 L303.6 108.1 L304.0 108.3 L304.4 108.4 L304.9 108.6 L305.3 108.8 L305.8 109.0 L306.3 109.2 L306.8 109.4 L307.3 109.6 L307.8 109.9 L308.4 110.1 L308.9 110.3 L309.4 110.5 L310.0 110.7 L310.5 111.0 L311.1 111.2 L311.6 111.4 L312.1 111.6 L312.6 111.8 L313.1 112.1 L313.6 112.3 L314.1 112.5 L314.5 112.7 L315.0 112.9 L315.4 113.1 L315.9 113.3 L316.4 113.5 L316.8 113.7 L317.3 113.9 L317.8 114.1 L318.3 114.3 L318.8 114.5 L319.4 114.8 L320.0 115.0 L320.6 115.3 L321.2 115.5 L321.8 115.8 L322.4 116.0 L322.9 116.2 L323.5 116.4 L323.9 116.6 L324.3 116.8 L324.6 116.9" stroke="#000" stroke-width="1.2" fill="none"/>
<path d="M302.4 101.6 L302.8 101.3 L303.2 101.0 L303.6 100.7 L304.0 100.4 L304.4 100.1 L304.8 99.8 L305.1 99.6 L305.5 99.3 L305.9 99.0 L306.3 98.8 L306.6 98.5 L307.0 98.3 L307.4 98.1 L307.8 97.8 L308.1 97.6 L308.5 97.3 L308.9 97.1 L309.3 96.9 L309.7 96.6 L310.0 96.4 L310.4 96.2 L310.8 95.9 L311.2 95.7 L311.6 95.5 L312.0 95.3 L312.4 95.0 L312.7 94.8 L313.1 94.6 L313.5 94.4 L313.9 94.2 L314.2 94.0 L314.6 93.8 L315.0 93.6 L315.3 93.5 L315.7 93.3 L316.0 93.1 L316.4 93.0 L316.8 92.8 L317.2 92.6 L317.6 92.4 L318.0 92.2 L318.5 92.0 L318.9 91.7 L319.5 91.5 L320.0 91.2 L320.6 91.0 L321.1 90.7 L321.7 90.5 L322.2 90.2 L322.6 90.0 L323.1 89.8 L323.4 89.6 L323.7 89.5" stroke="#ffc8c8" stroke-width="0.8" fill="none" stroke-dasharray="0.8 1.6"/>
<path d="M301.2 104.3 L301.5 104.0 L301.9 103.7 L302.3 103.4 L302.7 103.1 L303.0 102.7 L303.4 102.4 L303.8 102.1 L304.2 101.8 L304.6 101.5 L305.0 101.2 L305.4 100.9 L305.7 100.7 L306.1 100.4 L306.5 100.1 L306.9 99.9 L307.2 99.6 L307.6 99.4 L308.0 99.2 L308.4 98.9 L308.7 98.7 L309.1 98.4 L309.5 98.2 L309.9 98.0 L310.3 97.7 L310.6 97.5 L311.0 97.3 L311.4 97.0 L311.8 96.8 L312.2 96.6 L312.6 96.4 L313.0 96.1 L313.3 95.9 L313.7 95.7 L314.1 95.5 L314.5 95.3 L314.8 95.1 L315.2 94.9 L315.6 94.7 L315.9 94.6 L316.3 94.4 L316.6 94.2 L317.0 94.1 L317.4 93.9 L317.8 93.7 L318.2 93.5 L318.6 93.3 L319.1 93.1 L319.5 92.8 L320.1 92.6 L320.6 92.3 L321.2 92.1 L321.7 91.8 L322.3 91.6 L322.8 91.3 L323.2 91.1 L323.7 90.9 L324.0 90.7 L324.3 90.6" stroke="#200000" stroke-width="0.9" fill="none"/>
</g>
<g font-size="9.7" font-weight="bold" fill="#000" stroke="#000" stroke-width="0.18">
<circle cx="153.7" cy="168.0" r="3.0" fill="url(#gG)"/>
<text x="168.6" y="171.2">Al-resin+Al<tspan font-size="6.6" dy="2.2">2</tspan><tspan dy="-2.2">O</tspan><tspan font-size="6.6" dy="2.2">3</tspan><tspan dy="-2.2">;</tspan></text>
<circle cx="153.7" cy="182.7" r="3.0" fill="url(#gM)"/>
<text x="168.6" y="185.9">Al+Al<tspan font-size="6.6" dy="2.2">2</tspan><tspan dy="-2.2">O</tspan><tspan font-size="6.6" dy="2.2">3</tspan><tspan dy="-2.2">;</tspan></text>
<circle cx="153.7" cy="197.2" r="3.0" fill="url(#gB)"/>
<text x="168.6" y="200.4">Al-resin;</text>
<circle cx="255.2" cy="168.0" r="3.0" fill="url(#gT)"/>
<text x="266.8" y="171.2">Al-resin+TiO<tspan font-size="6.6" dy="2.2">2</tspan></text>
<circle cx="255.5" cy="182.7" r="3.0" fill="url(#gR)"/>
<text x="268.0" y="185.9">Al+TiO<tspan font-size="6.6" dy="2.2">2</tspan></text>
<circle cx="255.1" cy="197.2" r="3.0" fill="url(#gK)"/>
<text x="266.0" y="200.4">Al-Bare</text>
</g>
</svg>
</body></html>
